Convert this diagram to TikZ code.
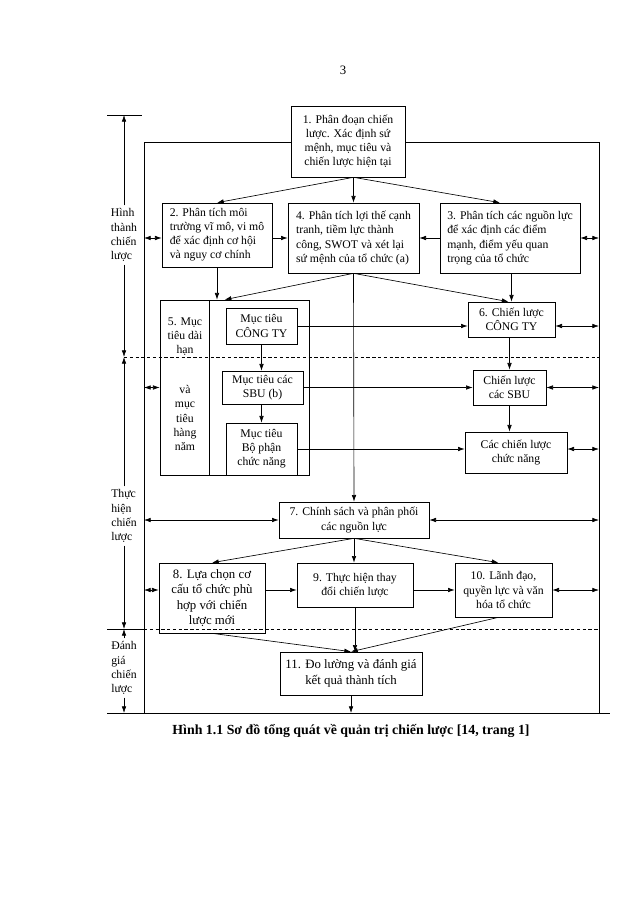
\documentclass[tikz,border=0pt]{standalone}
\usepackage{fontspec}
\setmainfont{Liberation Serif}
\usetikzlibrary{arrows.meta,calc}

\tikzset{
  box/.style 2 args={draw,inner sep=1pt,minimum width=#1*0.3292mm,minimum height=#2*0.3292mm,align=center,font=\fontsize{11}{13.2}\selectfont},
  lbl/.style={inner sep=3pt,align=left,font=\fontsize{11}{13.2}\selectfont},
  arr/.style={-{Latex[length=2.2mm,width=1.5mm]}},
  dbl/.style={{Latex[length=2.2mm,width=1.5mm]}-{Latex[length=2.2mm,width=1.5mm]}},
  dashln/.style={line width=.5pt,dash pattern=on 1.1mm off .8mm}
}

\begin{document}
\begin{tikzpicture}[x=0.3292mm,y=-0.3292mm,line width=.6pt]
\path[use as bounding box] (0,0) rectangle (638,902);
\node (pg) at (343,70) {\fontsize{12}{14}\selectfont 3};

\coordinate (ftl) at (144,142);
\coordinate (ftr) at (599,142);
\coordinate (fbl) at (144,713);
\coordinate (fbr) at (599,713);
\coordinate (ttop) at (124,115);
\coordinate (d1) at (124,357);
\coordinate (d2) at (124,629);
\coordinate (tbot) at (124,713);

\node[box={114}{71}] (b1) at (348,141.5) {1. Phân đoạn chiến\\lược. Xác định sứ\\mệnh, mục tiêu và\\chiến lược hiện tại};
\node[box={110}{64},align=left] (b2) at (217,235) {2. Phân tích môi\\trường vĩ mô, vi mô\\để xác định cơ hội\\và nguy cơ chính};
\node[box={131}{70},align=left] (b4) at (353.5,238) {4. Phân tích lợi thế cạnh\\tranh, tiềm lực thành\\công, SWOT và xét lại\\sứ mệnh của tổ chức (a)};
\node[box={140}{70},align=left] (b3) at (510,238) {3. Phân tích các nguồn lực\\để xác định các điểm\\mạnh, điểm yếu quan\\trọng của tổ chức};

\node[box={149}{175}] (obj) at (234.5,387.5) {};
\draw (209,300) -- (209,475);
\node[lbl,align=center] (obja) at (185,337) {5. Mục\\tiêu dài\\hạn};
\node[lbl,align=center] (objb) at (185,418) {và\\mục\\tiêu\\hàng\\năm};
\node[box={71}{36}] (mct) at (261.5,326) {Mục tiêu\\CÔNG TY};
\node[box={81}{33}] (msbu) at (262.5,387.5) {Mục tiêu các\\SBU (b)};
\node[box={71}{52}] (mbp) at (261.5,449) {Mục tiêu\\Bộ phận\\chức năng};

\node[box={87}{35}] (b6) at (511.5,319.5) {6. Chiến lược\\CÔNG TY};
\node[box={73}{35}] (ssbu) at (509.5,387.5) {Chiến lược\\các SBU};
\node[box={102}{41}] (scn) at (516,452.5) {Các chiến lược\\chức năng};

\node[box={150}{36}] (b7) at (354,520) {7. Chính sách và phân phối\\các nguồn lực};
\node[box={106}{70},font=\fontsize{12}{14.4}\selectfont] (b8) at (212,598) {8. Lựa chọn cơ\\cấu tổ chức phù\\hợp với chiến\\lược mới};
\node[box={116}{44}] (b9) at (355,585) {9. Thực hiện thay\\đổi chiến lược};
\node[box={97}{54}] (b10) at (503.5,590) {10. Lãnh đạo,\\quyền lực và văn\\hóa tổ chức};
\node[box={142}{43},font=\fontsize{12}{14.4}\selectfont] (b11) at (351,673.5) {11. Đo lường và đánh giá\\kết quả thành tích};

\node[lbl] (lhinh) at (124,235) {Hình\\thành\\chiến\\lược};
\node[lbl] (lthuc) at (124,516) {Thực\\hiện\\chiến\\lược};
\node[lbl] (ldanh) at (124,668) {Đánh\\giá\\chiến\\lược};

\node[font=\fontsize{13}{15}\selectfont\bfseries] (cap) at (351,731) {Hình 1.1 Sơ đồ tổng quát về quản trị chiến lược [14, trang 1]};

\draw (b1.west |- ftl) -- (ftl) -- (fbl);
\draw (b1.east |- ftr) -- (ftr) -- (fbr);
\draw (107,713) -- (610,713);
\draw (107,115) -- (142,115);
\draw (107,629) -- (144,629);
\draw[dashln] (d1) -- (599,357);
\draw[dashln] (144,629) -- (599,629);

\draw[arr] (lhinh.north) -- (ttop);
\draw[arr] (lhinh.south) -- (d1);
\draw[arr] (lthuc.north) -- (d1);
\draw[arr] (lthuc.south) -- (d2);
\draw[arr] (ldanh.north) -- (d2);
\draw[arr] (ldanh.south) -- (tbot);

\draw[arr] (b1.south -| b4.north) -- (b2.north);
\draw[arr] (b1.south -| b4.north) -- (b4.north);
\draw[arr] (b1.south -| b4.north) -- ($(b3.north)+(-10,0)$);
\draw[arr] (b2.east |- b4.west) -- (b4.west);
\draw[arr] (b3.west) -- (b4.east);
\draw[dbl] (ftl |- b4.west) -- (b2.west |- b4.west);
\draw[dbl] (b3.east) -- (b3.east -| ftr);

\draw[arr] (b2.south) -- (b2.south |- obj.north);
\draw[arr] (b4.south) -- ($(obj.north west)+(65,0)$);
\draw[arr] (b4.south) -- ($(b6.north)+(-3,0)$);
\draw[arr] (b6.north |- b3.south) -- (b6.north);
\draw[arr] (b4.south) -- (b7.north);

\draw[arr] (mct.south) -- (mct.south |- msbu.north);
\draw[arr] (mct.south |- msbu.south) -- (mct.south |- mbp.north);
\draw[arr] (mct.east) -- (mct.east -| b6.west);
\draw[arr] (msbu.east) -- (ssbu.west);
\draw[arr] (mbp.east) -- (mbp.east -| scn.west);
\draw[dbl] (ftl |- msbu.west) -- (obj.west |- msbu.west);
\draw[arr] (b6.south -| ssbu.north) -- (ssbu.north);
\draw[arr] (ssbu.south) -- (ssbu.south |- scn.north);
\draw[dbl] (mct.east -| b6.east) -- (mct.east -| ftr);
\draw[dbl] (ssbu.east) -- (ssbu.east -| ftr);
\draw[dbl] (mbp.east -| scn.east) -- (mbp.east -| ftr);

\draw[dbl] (ftl |- b7.west) -- (b7.west);
\draw[dbl] (b7.east) -- (b7.east -| ftr);
\draw[arr] (b7.south) -- (b8.north);
\draw[arr] (b7.south) -- (b7.south |- b9.north);
\draw[arr] (b7.south) -- ($(b10.north)+(-5,0)$);
\draw[dbl] (ftl |- b10.west) -- (b8.west |- b10.west);
\draw[arr] (b8.east |- b10.west) -- (b9.west |- b10.west);
\draw[arr] (b9.east |- b10.west) -- (b10.west);
\draw[dbl] (b10.east) -- (b10.east -| ftr);

\draw[arr] (b8.south) -- (b11.north);
\draw[arr] (b9.south) -- (b9.south |- b11.north);
\draw[arr] ($(b10.south)+(-5,0)$) -- (b11.north);
\draw[arr] (b11.south) -- (b11.south |- fbl);
\end{tikzpicture}
\end{document}
